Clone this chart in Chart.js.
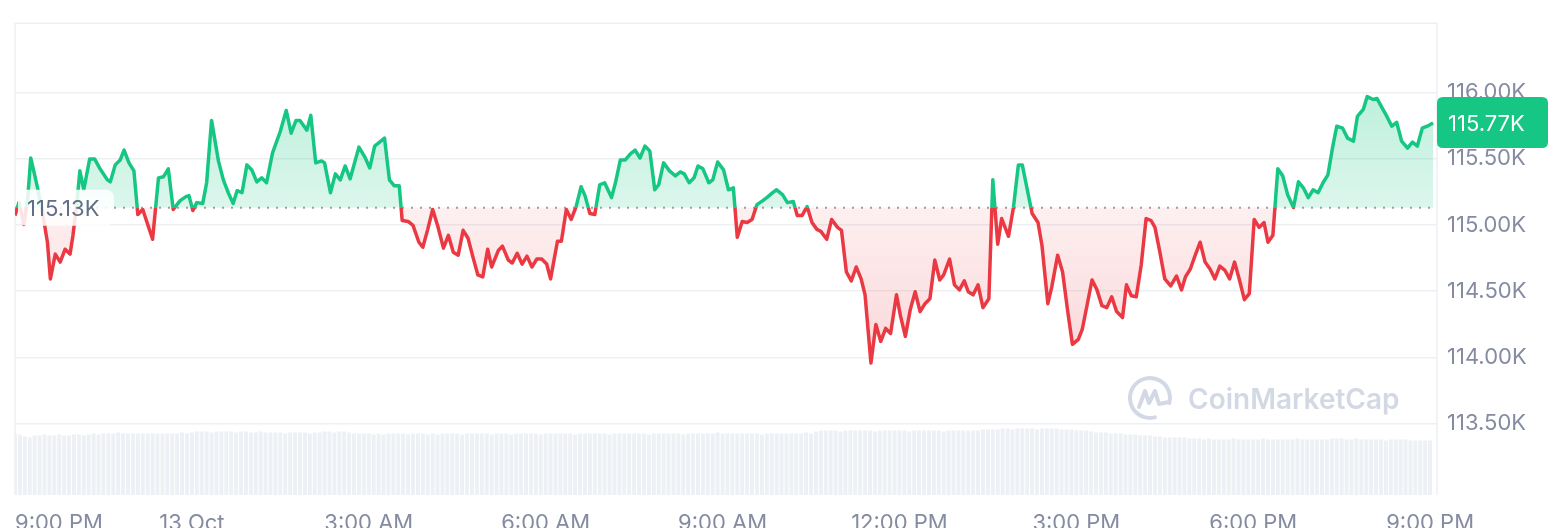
<!DOCTYPE html>
<html>
<head>
<meta charset="utf-8">
<script src="https://cdn.jsdelivr.net/npm/chart.js@4.4.1/dist/chart.umd.min.js"></script>
<style>
  html, body { margin: 0; padding: 0; background: #fff; }
  #c { display: block; }
</style>
</head>
<body>
<canvas id="c" width="1566" height="528"></canvas>
<script>
// BTC price, last 24h (minutes after 9:00 PM, price in K USD)
const GREEN = "#16c784";
const RED   = "#ea3943";
const AXIS_TXT = "#858ca2";
const GRID = "#edf0f3";

const BASE_PRICE = 115.13;   // opening price (dotted line)
const X_MAX = 1447;          // a few minutes past 9:00 PM

const priceMinutes = [
  0,4,9,13,16,20,24,28,33,36,41,46,51,56,59,63,66,70,76,81,86,94,97,102,107,111,116,121,125,130,
  140,146,151,156,161,168,174,177,181,185,191,195,200,207,212,217,222,226,231,236,241,246,251,256,262,270,276,281,286,290,
  297,301,306,312,315,321,326,331,336,341,350,356,361,366,371,376,381,386,391,394,400,405,411,415,420,425,430,436,441,446,
  451,456,461,466,471,476,481,485,492,496,502,506,511,516,521,526,531,536,541,545,552,556,561,566,571,576,580,585,590,595,
  600,607,611,616,621,626,631,636,641,646,651,655,660,666,672,677,681,686,691,695,700,706,710,715,721,726,731,735,740,745,
  750,755,761,765,771,775,781,786,792,796,801,806,811,816,820,826,831,837,841,846,851,856,861,865,871,876,881,886,891,897,
  901,906,911,916,921,926,931,936,941,945,951,956,961,966,970,975,980,985,991,995,1000,1004,1011,1016,1021,1025,1035,1041,1045,1051,
  1055,1061,1066,1071,1076,1082,1086,1091,1096,1101,1106,1111,1116,1121,1127,1131,1136,1141,1146,1151,1156,1160,1165,1170,1176,1182,1187,1191,1196,1201,
  1206,1211,1216,1221,1226,1231,1236,1241,1246,1251,1256,1261,1266,1271,1275,1280,1285,1290,1295,1301,1306,1311,1316,1321,1326,1331,1336,1341,1345,1351,
  1356,1362,1366,1372,1376,1382,1386,1392,1396,1401,1406,1411,1417,1422,1427,1432,1437,1443
];

const priceValues = [
  115.072,115.169,115.004,115.207,115.506,115.379,115.244,115.094,114.870,114.593,114.780,114.720,114.817,114.780,114.922,115.169,115.409,115.266,115.499,115.499,115.431,115.341,115.326,115.454,115.491,115.566,115.469,115.409,115.079,115.117,
  114.892,115.356,115.364,115.424,115.117,115.184,115.214,115.222,115.109,115.169,115.162,115.319,115.790,115.484,115.341,115.244,115.162,115.259,115.244,115.454,115.416,115.326,115.356,115.319,115.543,115.708,115.865,115.693,115.790,115.790,
  115.716,115.828,115.469,115.484,115.469,115.244,115.386,115.341,115.446,115.349,115.588,115.513,115.431,115.596,115.626,115.656,115.341,115.296,115.296,115.034,115.027,114.997,114.870,114.832,114.967,115.117,114.997,114.825,114.922,114.795,
  114.772,114.960,114.900,114.757,114.623,114.608,114.817,114.683,114.810,114.840,114.735,114.713,114.787,114.705,114.765,114.683,114.743,114.743,114.705,114.593,114.877,114.877,115.117,115.042,115.139,115.289,115.222,115.087,115.079,115.304,
  115.319,115.207,115.319,115.491,115.491,115.536,115.566,115.506,115.596,115.558,115.266,115.304,115.469,115.409,115.371,115.401,115.386,115.319,115.356,115.446,115.424,115.319,115.341,115.476,115.416,115.266,115.281,114.907,115.027,115.019,
  115.042,115.154,115.184,115.207,115.244,115.266,115.229,115.169,115.177,115.072,115.072,115.139,115.019,114.967,114.952,114.892,115.042,114.982,114.960,114.645,114.578,114.683,114.593,114.473,113.957,114.249,114.121,114.219,114.181,114.473,
  114.316,114.159,114.361,114.496,114.346,114.406,114.443,114.735,114.585,114.623,114.743,114.548,114.510,114.578,114.496,114.473,114.548,114.376,114.443,115.341,114.855,115.049,114.915,115.132,115.454,115.454,115.087,115.019,114.847,114.406,
  114.533,114.772,114.645,114.361,114.099,114.136,114.211,114.398,114.585,114.510,114.391,114.376,114.458,114.346,114.301,114.548,114.466,114.458,114.698,115.049,115.034,114.982,114.795,114.593,114.540,114.615,114.510,114.608,114.668,114.772,
  114.870,114.720,114.668,114.593,114.690,114.660,114.593,114.720,114.585,114.436,114.481,115.042,114.982,115.019,114.870,114.922,115.424,115.371,115.229,115.132,115.326,115.281,115.207,115.266,115.244,115.319,115.379,115.596,115.746,115.731,
  115.656,115.633,115.820,115.873,115.970,115.948,115.955,115.873,115.820,115.746,115.775,115.633,115.581,115.626,115.596,115.731,115.746,115.770
];

// volume per 5-minute bar (bn USD), bar i sits at minute i*5
const volumeValues = [
  6.2,6.1,5.9,5.8,6.0,
  6.0,6.1,6.0,6.0,6.1,6.0,6.0,6.1,6.1,6.0,6.1,
  6.2,6.1,6.2,6.2,6.2,6.3,6.2,6.2,6.2,6.2,6.2,6.2,6.2,6.2,6.2,6.2,6.2,6.2,6.3,6.2,
  6.3,6.4,6.4,6.4,6.3,6.4,6.4,6.4,6.4,6.3,6.4,6.4,
  6.3,6.3,6.4,6.3,6.3,6.3,6.3,6.2,6.3,6.3,6.3,6.3,6.2,6.3,6.3,
  6.4,6.4,6.3,6.4,6.4,6.3,
  6.2,6.2,6.2,6.2,6.1,6.2,6.1,6.2,6.2,6.2,6.2,6.1,6.2,6.2,6.2,6.1,6.2,6.1,6.2,6.2,6.2,6.2,6.1,6.2,6.2,6.2,6.2,6.2,6.1,6.2,
  6.2,6.2,6.1,6.2,6.2,6.2,6.2,6.2,6.1,6.2,
  6.2,6.2,6.2,6.2,6.2,6.1,6.2,6.2,6.2,6.2,
  6.2,6.2,6.1,6.2,6.2,6.2,6.2,6.2,6.2,6.2,
  6.1,6.2,6.2,6.2,6.2,6.2,6.2,6.1,6.2,6.2,
  6.2,6.2,6.2,6.2,6.3,6.2,6.2,6.2,6.2,6.2,
  6.2,6.2,6.2,6.1,6.2,6.2,6.2,6.2,6.2,6.2,
  6.2,6.2,6.3,6.2,
  6.4,6.5,6.5,6.5,6.5,6.4,6.5,6.5,6.5,6.5,6.5,6.5,6.4,6.5,6.5,6.5,6.5,6.5,6.5,6.4,
  6.5,6.5,6.5,6.5,6.5,6.5,6.4,6.5,6.5,6.5,6.5,6.5,6.5,6.5,6.6,6.6,6.6,6.6,
  6.7,6.7,6.6,6.7,6.7,6.7,6.7,6.6,6.7,6.7,6.7,6.7,6.6,6.6,6.6,6.5,6.5,6.5,
  6.4,6.3,6.3,6.3,6.2,6.2,6.2,6.1,6.1,6.1,6.0,6.0,6.0,
  5.9,5.9,5.8,5.8,5.8,5.8,5.8,5.7,
  5.7,5.7,5.6,5.7,5.6,5.6,5.6,5.6,5.7,5.6,5.6,5.6,5.6,5.6,5.7,5.6,5.6,5.6,5.6,5.6,
  5.6,5.7,5.6,5.6,5.6,5.6,5.6,5.6,5.7,5.7,5.7,5.6,5.6,5.7,5.6,5.6,5.6,5.6,5.6,5.5,
  5.6,5.6,5.6,5.6,5.5,5.5,5.5,5.5,
  5.5
];

const tickMinutes = [0, 180, 360, 540, 720, 900, 1080, 1260, 1440];
const tickLabels  = ["9:00 PM", "13 Oct", "3:00 AM", "6:00 AM", "9:00 AM", "12:00 PM", "3:00 PM", "6:00 PM", "9:00 PM"];
const yTicks = [113.5, 114.0, 114.5, 115.0, 115.5, 116.0];

const FONT = { family: "Inter, 'Noto Sans', sans-serif", size: 22 };

// colour split exactly at the opening price
function splitGradient(chart, aboveTop, aboveBase, belowBase, belowBottom) {
  const area = chart.chartArea;
  if (!area) return null;
  const y = chart.scales.y.getPixelForValue(BASE_PRICE);
  const f = Math.min(1, Math.max(0, (y - area.top) / (area.bottom - area.top)));
  const g = chart.ctx.createLinearGradient(0, area.top, 0, area.bottom);
  g.addColorStop(0, aboveTop);
  g.addColorStop(f, aboveBase);
  g.addColorStop(f, belowBase);
  g.addColorStop(1, belowBottom);
  return g;
}

function roundRect(ctx, x, y, w, h, r) {
  ctx.beginPath();
  ctx.moveTo(x + r, y);
  ctx.lineTo(x + w - r, y);
  ctx.quadraticCurveTo(x + w, y, x + w, y + r);
  ctx.lineTo(x + w, y + h - r);
  ctx.quadraticCurveTo(x + w, y + h, x + w - r, y + h);
  ctx.lineTo(x + r, y + h);
  ctx.quadraticCurveTo(x, y + h, x, y + h - r);
  ctx.lineTo(x, y + r);
  ctx.quadraticCurveTo(x, y, x + r, y);
  ctx.closePath();
}

const framePlugin = {
  id: "frame",
  beforeDatasetsDraw(chart) {
    const { ctx, chartArea: a } = chart;
    ctx.save();
    ctx.strokeStyle = GRID;
    ctx.lineWidth = 1.5;
    ctx.beginPath();
    ctx.moveTo(a.left, a.bottom); ctx.lineTo(a.left, a.top);
    ctx.lineTo(a.right, a.top); ctx.lineTo(a.right, a.bottom);
    ctx.stroke();

    // watermark
    const wx = a.right - 287, wy = a.bottom - 97;
    ctx.strokeStyle = "#d3d9e4";
    ctx.lineWidth = 4;
    ctx.lineCap = "round";
    ctx.lineJoin = "round";
    ctx.beginPath();
    ctx.arc(wx, wy, 20, 0.42 * Math.PI, 2.08 * Math.PI);
    ctx.stroke();
    ctx.beginPath();
    ctx.moveTo(wx - 11, wy + 9);
    ctx.lineTo(wx - 5, wy - 7);
    ctx.lineTo(wx - 1, wy + 5);
    ctx.lineTo(wx + 5, wy - 7);
    ctx.lineTo(wx + 9, wy + 6);
    ctx.lineTo(wx + 19, wy + 4);
    ctx.stroke();
    ctx.fillStyle = "#d3d9e4";
    ctx.font = "600 28px Inter, sans-serif";
    ctx.textBaseline = "alphabetic";
    ctx.fillText("CoinMarketCap", wx + 38, wy + 11);
    ctx.restore();
  }
};

const tagPlugin = {
  id: "tags",
  afterDatasetsDraw(chart) {
    const { ctx, chartArea: a, scales } = chart;
    const y = scales.y.getPixelForValue(BASE_PRICE);
    ctx.save();
    ctx.fillStyle = "rgba(255,255,255,0.86)";
    roundRect(ctx, a.left + 3, y - 18, 96, 36, 9);
    ctx.fill();
    ctx.fillStyle = "#616e85";
    ctx.font = `${FONT.size}px ${FONT.family}`;
    ctx.textBaseline = "middle";
    ctx.textAlign = "left";
    ctx.fillText(BASE_PRICE.toFixed(2) + "K", a.left + 12, y + 2);
    ctx.restore();
  },
  afterDraw(chart) {
    const { ctx, chartArea: a, scales } = chart;
    const last = priceValues[priceValues.length - 1];
    const y = scales.y.getPixelForValue(last);
    ctx.save();
    ctx.fillStyle = GREEN;
    roundRect(ctx, a.right, y - 26, 111, 51, 6);
    ctx.fill();
    ctx.fillStyle = "#ffffff";
    ctx.font = `${FONT.size}px ${FONT.family}`;
    ctx.textBaseline = "middle";
    ctx.textAlign = "left";
    ctx.fillText(last.toFixed(2) + "K", a.right + 11, y + 1);
    ctx.restore();
  }
};

function draw() {
  new Chart(document.getElementById("c"), {
    type: "line",
    data: {
      datasets: [
        {
          type: "line",
          label: "Price",
          data: priceMinutes.map((m, i) => ({ x: m, y: priceValues[i] })),
          yAxisID: "y",
          borderWidth: 3.5,
          borderJoinStyle: "round",
          borderColor: (c) => splitGradient(c.chart, GREEN, GREEN, RED, RED) || GREEN,
          backgroundColor: (c) => splitGradient(c.chart,
            "rgba(22,199,132,0.36)", "rgba(22,199,132,0.15)",
            "rgba(234,57,67,0.08)", "rgba(234,57,67,0.30)") || "transparent",
          fill: { value: BASE_PRICE },
          pointRadius: 0,
          tension: 0,
          order: 0
        },
        {
          type: "line",
          label: "Open",
          data: [{ x: 0, y: BASE_PRICE }, { x: priceMinutes[priceMinutes.length - 1], y: BASE_PRICE }],
          yAxisID: "y",
          borderColor: "#9aa1ae",
          borderWidth: 2,
          borderDash: [2, 7],
          pointRadius: 0,
          fill: false,
          order: 1
        },
        {
          type: "bar",
          label: "Volume",
          data: volumeValues.map((v, i) => ({ x: i * 5, y: v })),
          yAxisID: "yVol",
          backgroundColor: "#edf0f4",
          barPercentage: 0.8,
          categoryPercentage: 1,
          order: 2
        }
      ]
    },
    options: {
      responsive: false,
      animation: false,
      events: [],
      layout: { padding: { left: 15, top: 19, right: 0, bottom: 0 } },
      plugins: { legend: { display: false }, tooltip: { enabled: false } },
      scales: {
        x: {
          type: "linear",
          min: 0,
          max: X_MAX,
          offset: false,
          grid: { display: false, drawTicks: false },
          border: { display: false },
          ticks: {
            align: "inner",
            autoSkip: false,
            maxRotation: 0,
            padding: 15,
            color: AXIS_TXT,
            font: FONT,
            callback: (v, i) => tickLabels[i] ?? ""
          },
          afterBuildTicks: (s) => { s.ticks = tickMinutes.concat([X_MAX]).map(v => ({ value: v })); },
          afterFit: (s) => { s.height = 33; }
        },
        y: {
          position: "right",
          min: 112.961,
          max: 116.524,
          grid: { color: GRID, lineWidth: 1.5, drawTicks: false },
          border: { display: false },
          ticks: {
            padding: 10,
            color: AXIS_TXT,
            font: FONT,
            callback: (v) => Number(v).toFixed(2) + "K"
          },
          afterBuildTicks: (s) => { s.ticks = yTicks.map(v => ({ value: v })); },
          afterFit: (s) => { s.width = 129; }
        },
        yVol: {
          display: false,
          position: "left",
          min: 0,
          max: 47.6
        }
      }
    },
    plugins: [framePlugin, tagPlugin]
  });
}

if (document.fonts && document.fonts.load) {
  Promise.all([document.fonts.load("22px Inter"), document.fonts.load("600 28px Inter")])
    .then(draw, draw);
} else {
  draw();
}
</script>
</body>
</html>
